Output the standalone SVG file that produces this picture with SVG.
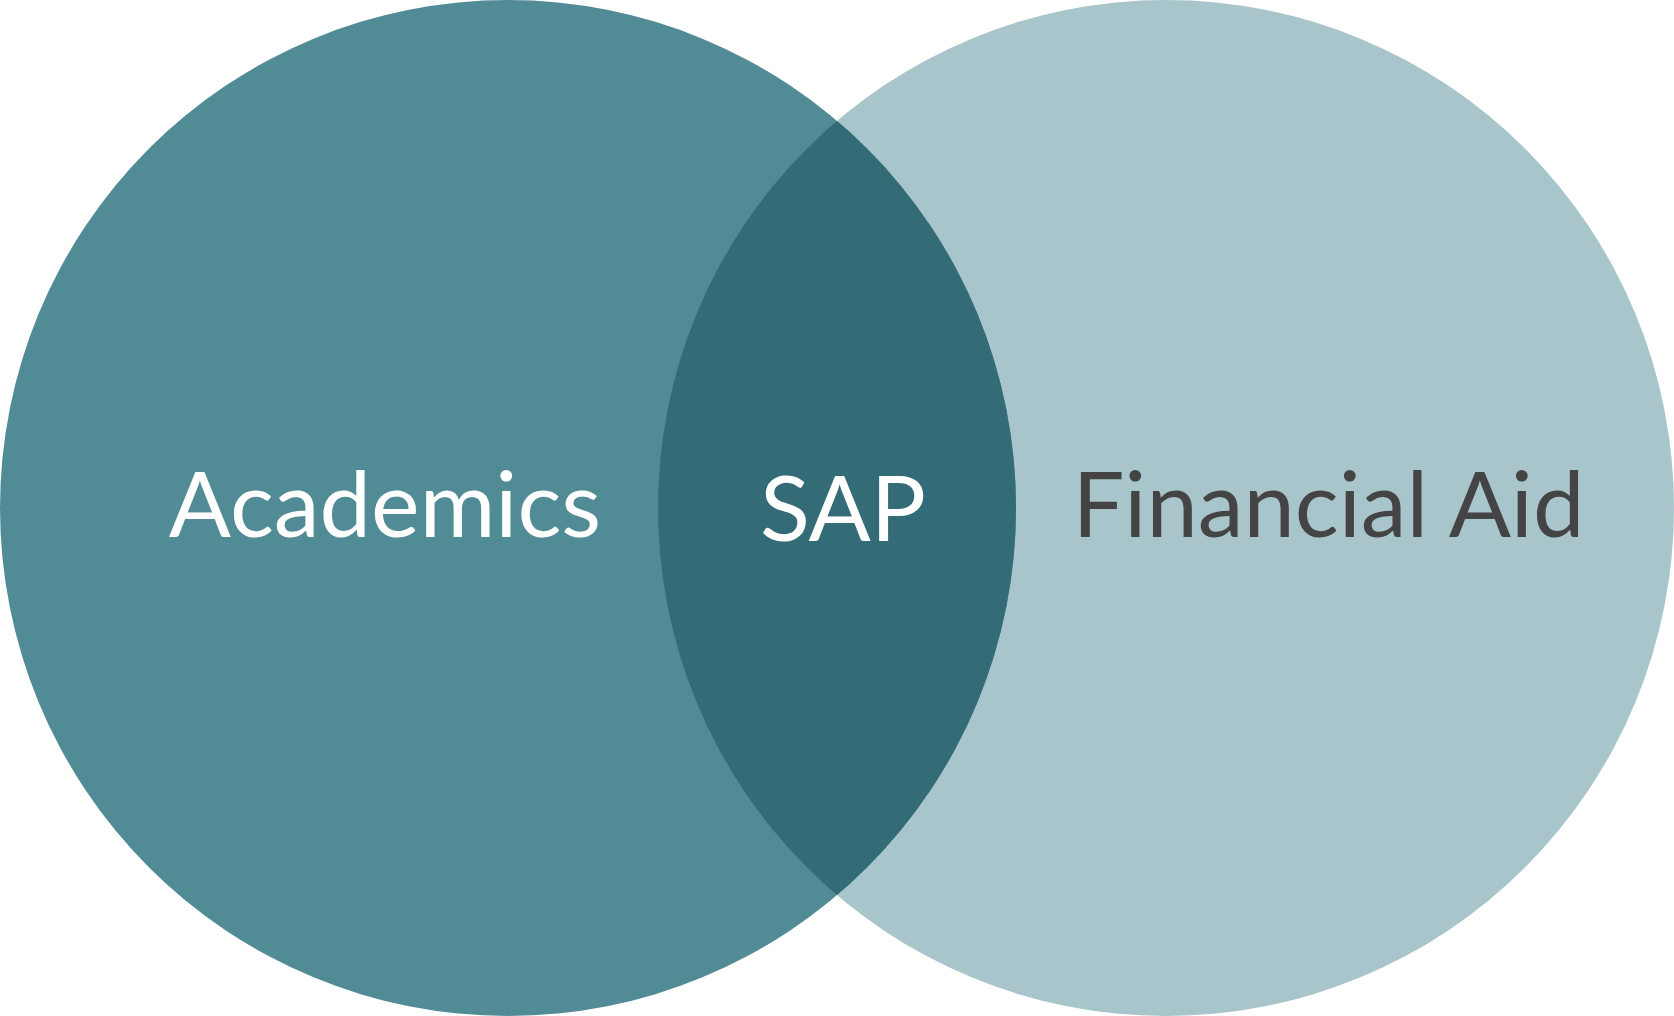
<svg xmlns="http://www.w3.org/2000/svg" width="1674" height="1016" viewBox="0 0 1674 1016">
  <style>
    .lbl { font-family: Lato, "Noto Sans", "Liberation Sans", sans-serif; font-size: 92px; text-anchor: middle; }
    .light { fill: #ffffff; }
    .dark { fill: #444444; }
  </style>
  <defs>
    <clipPath id="clipLeft">
      <circle cx="508" cy="508" r="508"/>
    </clipPath>
  </defs>
  <rect x="0" y="0" width="1674" height="1016" fill="#ffffff"/>
  <g id="financial-aid">
    <circle cx="1166" cy="508" r="508" fill="#a8c5cb"/>
    <text class="lbl dark" x="1328.5" y="537">Financial Aid</text>
  </g>
  <g id="academics">
    <circle cx="508" cy="508" r="508" fill="#518c96"/>
    <text class="lbl light" x="385" y="537">Academics</text>
  </g>
  <g id="sap">
    <circle cx="1166" cy="508" r="508" fill="#336c77" clip-path="url(#clipLeft)"/>
    <text class="lbl light" x="843" y="541">SAP</text>
  </g>
  <g id="connectors"></g>
</svg>
